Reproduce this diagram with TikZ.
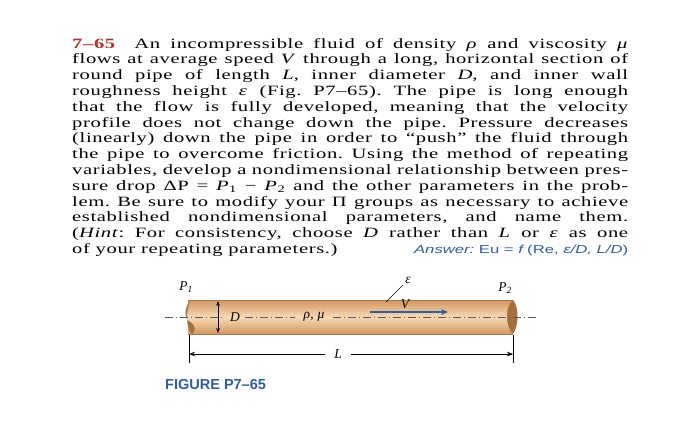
\documentclass[tikz,border=0pt]{standalone}
\usepackage{fontspec}
\setmainfont{Liberation Serif}[LetterSpace=3]
\newfontfamily\hsans{Liberation Sans}
\usetikzlibrary{arrows.meta}
\definecolor{redn}{HTML}{B0302A}
\definecolor{bluet}{HTML}{2F5F9E}
\definecolor{pipemid}{HTML}{F7D9B4}
\definecolor{pipeedge}{HTML}{D29762}
\definecolor{pipeend}{HTML}{A86E3C}
\frenchspacing
\newcommand{\tl}[1]{\scalebox{1.45}[1]{\makebox[383.4pt][s]{#1}}}
\tikzset{line/.style={anchor=base west,inner sep=0pt,font=\fontsize{14.2}{16}\selectfont},
lab/.style={font=\fontsize{13.5}{14}\selectfont\itshape,inner sep=1pt}}
\begin{document}
\begin{tikzpicture}[x=1pt,y=-1pt]
\useasboundingbox (0,0) rectangle (700,424);
\fill[white] (0,0) rectangle (700,424);
\foreach \i/\t in {
0/{\textcolor{redn}{\textbf{7–65}}\hspace{0.4em} An incompressible fluid of density \textit{ρ} and viscosity \textit{μ}},
1/{flows at average speed \textit{V} through a long, horizontal section of},
2/{round pipe of length \textit{L}, inner diameter \textit{D}, and inner wall},
3/{roughness height \textit{ε} (Fig.~P7–65). The pipe is long enough},
4/{that the flow is fully developed, meaning that the velocity},
5/{profile does not change down the pipe. Pressure decreases},
6/{(linearly) down the pipe in order to “push” the fluid through},
7/{the pipe to overcome friction. Using the method of repeating},
8/{variables, develop a nondimensional relationship between pres-},
9/{sure drop ΔP = \textit{P}\textsubscript{1} − \textit{P}\textsubscript{2} and the other parameters in the prob-},
10/{lem. Be sure to modify your Π groups as necessary to achieve},
11/{established nondimensional parameters, and name them.},
12/{(\textit{Hint}: For consistency, choose \textit{D} rather than \textit{L} or \textit{ε} as one},
13/{of your repeating parameters.)\hfill\textcolor{bluet}{\hsans\fontsize{11.5}{14}\selectfont\textit{Answer:} Eu = \textit{f}\,(Re, \textit{ε/D, L/D})}}}
{\node[line] (l\i) at (72,{48+15.8*\i}) {\tl{\t}};}
% pipe
\shade[top color=pipeedge,bottom color=pipeedge,middle color=pipemid] (188,300) rectangle (513,334);
\draw[pipeedge!80!black,line width=0.4pt] (188,300) -- (513,300) (188,334) -- (513,334);
\fill[pipeend] (190,300) .. controls (184,310) and (184,318) .. (190,322) .. controls (196,326) and (196,330) .. (192,334) .. controls (186,330) and (186,312) .. (190,300);
\fill[pipeend] (513,300) .. controls (505,306) and (505,326) .. (513,334) .. controls (519,326) and (519,306) .. (513,300);
% centerline
\draw[gray!70!black,line width=0.5pt,dash pattern=on 8pt off 3pt on 1pt off 3pt] (165,317) -- (225,317) (245,317) -- (295,317) (333,317) -- (537,317);
\node[lab] (D) at (235,317) {D};
\node[lab] (rm) at (314,317) {ρ, μ};
\coordinate (dt) at (218,301); \coordinate (db) at (218,333);
\draw[{Stealth[length=5pt]}-{Stealth[length=5pt]},line width=0.7pt] (dt) -- (db);
% V
\coordinate (va) at (370,312); \coordinate (vb) at (448,312);
\draw[bluet,line width=2pt,-{Stealth[length=7pt,width=6pt]}] (va) -- (vb);
\node[lab] (V) at (405,304) {V};
\node[lab] (eps) at (408,280) {ε};
\coordinate (ep) at (386,302);
\draw[line width=0.4pt] (403,285) -- (ep);
\node[lab] (P1) at (186,287) {P\textsubscript{1}};
\node[lab] (P2) at (505,288) {P\textsubscript{2}};
% L dimension
\draw[line width=0.5pt] (189,335) -- (189,363) (513,335) -- (513,363);
\node[lab] (L) at (338,354) {L};
\coordinate (la) at (189,354); \coordinate (lb) at (513,354);
\draw[line width=0.5pt,-{Stealth[length=6pt]}] (L.west) ++(-8,0) -- (la);
\draw[line width=0.5pt,-{Stealth[length=6pt]}] (L.east) ++(8,0) -- (lb);
\node[anchor=west,inner sep=0pt,text=bluet,font=\hsans\bfseries\fontsize{14.5}{14}\selectfont] (fig) at (165,384) {FIGURE P7–65};
\end{tikzpicture}
\end{document}
